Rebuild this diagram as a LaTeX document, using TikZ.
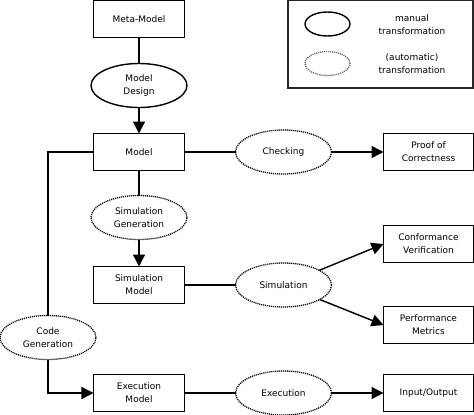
\documentclass[tikz,border=0pt]{standalone}
\usepackage{fontspec}
\setmainfont{DejaVu Sans}
\usepackage{tikz}
\usetikzlibrary{shapes.geometric, arrows.meta, positioning, calc}
\tikzset{
  modelbox/.style={rectangle,draw=black,line width=1.4pt,minimum width=91pt,
    minimum height=37pt,inner sep=0pt,outer sep=0pt,align=center,
    font=\fontsize{9}{13}\selectfont},
  resultbox/.style={modelbox,minimum width=90pt},
  manual/.style={ellipse,draw=black,line width=1.4pt,minimum width=96pt,
    minimum height=44pt,inner sep=0pt,outer sep=0pt,align=center,
    font=\fontsize{9}{13}\selectfont},
  autotrans/.style={manual,line width=1.3pt,dash pattern=on 1.1pt off 0.9pt},
  legtext/.style={align=center,inner sep=0pt,font=\fontsize{9}{13}\selectfont},
  legbox/.style={rectangle,draw=black!85,line width=1.4pt,minimum width=185pt,
    minimum height=88pt,inner sep=0pt},
  arrow/.style={-{Triangle[length=12pt,width=12pt]},line width=1.4pt},
  conn/.style={line width=1.4pt}
}
\begin{document}
\begin{tikzpicture}[node distance=26pt and 51pt]
  \useasboundingbox (-139pt,19pt) rectangle (335pt,-396pt);
  % main column
  \node[modelbox] (meta) at (0,0) {Meta-Model};
  \node[manual, below=of meta] (mdesign) {Model\\ Design};
  \node[modelbox, below=of mdesign] (model) {Model};
  \node[autotrans, below=25pt of model] (simgen) {Simulation\\ Generation};
  \node[modelbox, below=27pt of simgen] (simmod) {Simulation\\ Model};
  \node[autotrans, below=12pt of simmod, xshift=-91pt] (codegen) {Code\\ Generation};
  \node[modelbox, below=71pt of simmod] (execmod) {Execution\\ Model};
  % transformations and results
  \node[autotrans, right=of model] (check) {Checking};
  \node[resultbox, right=52pt of check] (proof) {Proof of\\ Correctness};
  \node[autotrans, right=of simmod] (sim) {Simulation};
  \node[resultbox, right=52pt of sim, yshift=41pt] (conf) {Conformance\\ Verification};
  \node[resultbox, right=52pt of sim, yshift=-40pt] (perf) {Performance\\ Metrics};
  \node[autotrans, right=of execmod] (exec) {Execution};
  \node[resultbox, right=52pt of exec] (io) {Input/Output};
  % legend
  \node[legbox] (legend) at (241.5pt,-25pt) {};
  \node[manual, minimum width=45pt, minimum height=24pt]
    (lgman) at ([shift={(-53pt,20pt)}]legend.center) {};
  \node[autotrans, draw=black!60, minimum width=45pt, minimum height=24pt]
    (lgauto) at ([shift={(-53pt,-19.5pt)}]legend.center) {};
  \node[legtext] (lgmantxt) at ([shift={(31.5pt,19pt)}]legend.center) {manual\\ transformation};
  \node[legtext] (lgautotxt) at ([shift={(31.5pt,-19.5pt)}]legend.center) {(automatic)\\ transformation};

  \draw[conn] (meta) -- (mdesign);
  \draw[arrow] (mdesign) -- (model);
  \draw[conn] (model) -- (check);
  \draw[arrow] (check) -- (proof);
  \draw[conn] (model) -- (simgen);
  \draw[arrow] (simgen) -- (simmod);
  \draw[conn] (simmod) -- (sim);
  \draw[arrow] (sim) -- (conf.west);
  \draw[arrow] (sim) -- (perf.west);
  \draw[conn] (model.west) -| (codegen.north);
  \draw[arrow] (codegen.south) |- (execmod.west);
  \draw[conn] (execmod) -- (exec);
  \draw[arrow] (exec) -- (io);
\end{tikzpicture}
\end{document}
